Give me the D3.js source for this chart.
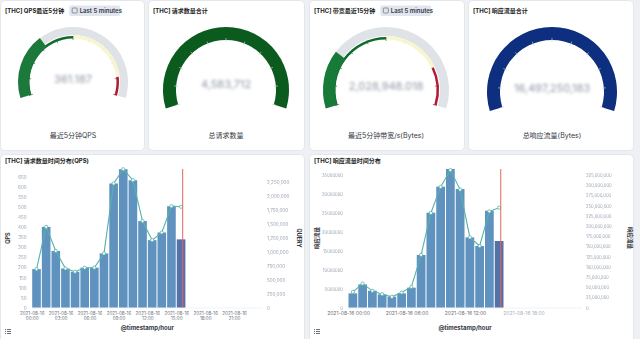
<!DOCTYPE html>
<html>
<head>
<meta charset="utf-8">
<title>THC dashboard</title>
<script src="https://cdn.jsdelivr.net/npm/d3@7"></script>
<style>
  body { margin: 0; background: #eef0f4; }
  svg { display: block; font-family: Inter, "Noto Sans CJK SC", sans-serif; }
</style>
</head>
<body>
<svg width="640" height="339" id="mainsvg"></svg>
<script>
// ---- gauge data
const gaugeTitles = ['[THC] QPS最近5分钟', '[THC] 请求数量合计', '[THC] 带宽最近15分钟', '[THC] 响应流量合计'];
const gaugeBadges = ['Last 5 minutes', '', 'Last 5 minutes', ''];
const gaugeLabels = ['最近5分钟QPS', '总请求数量', '最近5分钟带宽/s(Bytes)', '总响应流量(Bytes)'];
const gaugeValues = [326.83, 4583712, 2028948.018, 16497250183];
const gaugeText = ['361.187', '4,583,712', '2,028,948.018', '16,497,250,183'];
const gaugeMax = [1000, 4000000, 8000000, 12000000000];
const gaugeRanges = [[0, 500, 890, 1000], [0, 4000000], [0, 4000000, 6400000, 8000000], [0, 12000000000]];

// ---- bar chart data (hourly buckets)
const hours = ['2021-08-16 00:00', '2021-08-16 01:00', '2021-08-16 02:00', '2021-08-16 03:00',
  '2021-08-16 04:00', '2021-08-16 05:00', '2021-08-16 06:00', '2021-08-16 07:00',
  '2021-08-16 08:00', '2021-08-16 09:00', '2021-08-16 10:00', '2021-08-16 11:00',
  '2021-08-16 12:00', '2021-08-16 13:00', '2021-08-16 14:00', '2021-08-16 15:00'];
const dayRange = ['2021-08-16 00:00', '2021-08-17 00:00'];
const nowTime = '2021-08-16 15:40';
const qps = [192, 402, 282, 195, 179, 199, 199, 270, 618, 689, 634, 431, 336, 374, 505, 340];
const query = [691200, 1447200, 1015200, 702000, 644400, 716400, 716400, 972000,
  2224800, 2480400, 2282400, 1551600, 1209600, 1346400, 1818000, 1807200];
const respBytes = [3770000, 6140000, 4470000, 3510000, 2900000, 3770000, 5260000, 13860000,
  25000000, 31850000, 36500000, 31240000, 18510000, 16230000, 25530000, 17550000];
const respLine = [38800000, 59100000, 41300000, 33200000, 26700000, 37200000, 51000000, 129400000,
  232200000, 296100000, 337400000, 289600000, 172300000, 151300000, 236200000, 245100000];

const svg = d3.select('#mainsvg');
const defs = svg.append('defs');
defs.append('filter').attr('id', 'blurBig').attr('x', '-20%').attr('width', '140%')
  .append('feGaussianBlur').attr('stdDeviation', 1.5);
defs.append('filter').attr('id', 'blurSm')
  .append('feGaussianBlur').attr('stdDeviation', 0.45);

// panels
const panels = [
  { x: 0, y: 0, w: 145, h: 151 }, { x: 148, y: 0, w: 157, h: 151 },
  { x: 309, y: 0, w: 156, h: 151 }, { x: 468, y: 0, w: 166, h: 151 },
  { x: 0, y: 154, w: 305, h: 190 }, { x: 309, y: 154, w: 325, h: 190 }
];
svg.selectAll('rect.panel').data(panels).join('rect').attr('class', 'panel')
  .attr('x', d => d.x + 0.5).attr('y', d => d.y + 0.5)
  .attr('width', d => d.w - 1).attr('height', d => d.h - 1)
  .attr('rx', 4).attr('fill', '#fff').attr('stroke', '#e3e6eb');

// ---- gauges
const gaugeGeo = [
  { cx: 73, cy: 82, r: 55, bg: 8, th: 11, color: '#1b7a3b' },
  { cx: 226, cy: 90, r: 63, bg: 9, th: 13, color: '#0c5b1e' },
  { cx: 386, cy: 90, r: 63, bg: 9, th: 12, color: '#177a38' },
  { cx: 552, cy: 92, r: 65, bg: 9, th: 13, color: '#0e2f7f' }
];
const rangeColors = ['#0f6b2c', '#f7f6cf', '#b01c33'];
const a0 = -107 * Math.PI / 180, a1 = 107 * Math.PI / 180;

gaugeTitles.forEach((t, i) => {
  const p = panels[i], geo = gaugeGeo[i];
  const title = svg.append('text').attr('x', p.x + 5).attr('y', 13)
    .attr('font-size', 6).attr('font-weight', 700).attr('fill', '#1a1c21').text(t);
  if (gaugeBadges[i]) {
    const tw = title.node().getComputedTextLength();
    const bx = p.x + 5 + tw + 5;
    svg.append('rect').attr('x', bx).attr('y', 5.5).attr('width', 51).attr('height', 10.5)
      .attr('rx', 2).attr('fill', '#e0e5ee');
    svg.append('rect').attr('x', bx + 3).attr('y', 8).attr('width', 5).attr('height', 5)
      .attr('rx', 0.8).attr('fill', 'none').attr('stroke', '#69707d').attr('stroke-width', 0.7);
    svg.append('text').attr('x', bx + 10.5).attr('y', 13).attr('font-size', 6)
      .attr('font-weight', 600).attr('fill', '#343741').text(gaugeBadges[i]);
  }

  const g = svg.append('g').attr('transform', `translate(${geo.cx},${geo.cy})`);
  const ang = d3.scaleLinear().domain([0, gaugeMax[i]]).range([a0, a1]).clamp(true);
  // background
  g.append('path').attr('fill', '#dfe2e6')
    .attr('d', d3.arc()({ innerRadius: geo.r - geo.bg, outerRadius: geo.r, startAngle: a0, endAngle: a1 }));
  // colour ranges (scale)
  const rg = gaugeRanges[i];
  if (rg.length > 2) {
    for (let k = 0; k < rg.length - 1; k++) {
      g.append('path').attr('fill', rangeColors[k])
        .attr('d', d3.arc()({ innerRadius: geo.r - geo.th - 0.5, outerRadius: geo.r - geo.bg + (k === 1 ? 0 : -1),
          startAngle: ang(rg[k]), endAngle: ang(rg[k + 1]) }));
    }
  }
  // value arc
  g.append('path').attr('fill', geo.color)
    .attr('d', d3.arc()({ innerRadius: geo.r - geo.th, outerRadius: geo.r, startAngle: a0, endAngle: ang(gaugeValues[i]) }));
  // ticks
  const tv = d3.range(0, 11).map(k => a0 + (a1 - a0) * k / 10);
  g.selectAll('line.tk').data(tv).join('line').attr('class', 'tk')
    .attr('x1', a => Math.sin(a) * (geo.r - geo.th - 2)).attr('y1', a => -Math.cos(a) * (geo.r - geo.th - 2))
    .attr('x2', a => Math.sin(a) * (geo.r - geo.th + 2)).attr('y2', a => -Math.cos(a) * (geo.r - geo.th + 2))
    .attr('stroke', a => {
      if (rg.length <= 2) return '#c9ced6';
      const v = ang.invert(a);
      return v <= rg[1] ? '#2f6b3f' : (v < rg[2] ? '#eceacb' : '#b01c33');
    }).attr('stroke-width', 0.7);
  // value text (blurred)
  g.append('text').attr('y', [-2, -5, -3, -3][i]).attr('text-anchor', 'middle')
    .attr('dominant-baseline', 'middle').attr('font-size', 11).attr('fill', '#8e96a3')
    .attr('filter', 'url(#blurBig)').text(gaugeText[i]);
  svg.append('text').attr('x', geo.cx).attr('y', 138).attr('text-anchor', 'middle')
    .attr('font-size', 7).attr('fill', '#343741').text(gaugeLabels[i]);
});

// ---- bar charts
const parse = d3.timeParse('%Y-%m-%d %H:%M');
const times = hours.map(parse);
const fmt = d3.timeFormat('%Y-%m-%d %H:%M');

function drawChart(c) {
  const p = c.panel;
  svg.append('text').attr('x', p.x + 5).attr('y', 163).attr('font-size', 6).attr('font-weight', 700)
    .attr('fill', '#1a1c21').text(c.title);
  const x = d3.scaleTime().domain(dayRange.map(parse)).range([c.x0, c.x1]);
  const y = d3.scaleLinear().domain([0, c.yMax]).range([307.7, 169]);
  const y2 = d3.scaleLinear().domain([0, c.y2Max]).range([307.7, 169]);
  const g = svg.append('g');

  g.selectAll('rect.bar').data(c.bars).join('rect').attr('class', 'bar')
    .attr('x', (d, i) => x(times[i]) + 0.5)
    .attr('width', (d, i) => x(d3.timeHour.offset(times[i], 1)) - x(times[i]) - 1)
    .attr('y', d => y(d)).attr('height', d => y(0) - y(d))
    .attr('fill', (d, i) => i === c.bars.length - 1 ? '#5670a8' : '#6092c0');

  const mid = i => x(d3.timeMinute.offset(times[i], 30));
  g.append('path').datum(c.line)
    .attr('d', d3.line().x((d, i) => mid(i)).y(d => y2(d)))
    .attr('fill', 'none').attr('stroke', '#54b3a8').attr('stroke-width', 1.1);
  g.selectAll('circle').data(c.line).join('circle')
    .attr('cx', (d, i) => mid(i)).attr('cy', d => y2(d)).attr('r', 1.6)
    .attr('fill', '#fff').attr('stroke', '#54b3a8').attr('stroke-width', 0.8);

  g.append('line').attr('x1', x(parse(nowTime))).attr('x2', x(parse(nowTime)))
    .attr('y1', 169).attr('y2', 307.7).attr('stroke', '#e0675a').attr('stroke-width', 1);

  // axes
  const end = parse(dayRange[1]);
  const xTicks = x.ticks(d3.timeHour.every(c.every)).filter(d => d < end);
  const yAxis = g.append('g').attr('transform', `translate(${c.x0 - 5},0)`)
    .call(d3.axisLeft(y).tickValues(c.yTicks).tickSize(0).tickPadding(0).tickFormat(c.yFmt));
  const y2Axis = g.append('g').attr('transform', `translate(${c.x1 + 4},0)`)
    .call(d3.axisRight(y2).tickValues(c.y2Ticks).tickSize(0).tickPadding(0).tickFormat(d3.format(',')));
  const xAxis = g.append('g').attr('transform', 'translate(0,309.5)')
    .call(d3.axisBottom(x).tickValues(xTicks).tickSize(0).tickPadding(2).tickFormat(fmt));
  [yAxis, y2Axis, xAxis].forEach(a => a.select('.domain').remove());
  [yAxis, y2Axis].forEach(a => a.selectAll('text').attr('font-size', c.yFont).attr('fill', '#9aa3b0')
    .attr('font-family', 'Inter, sans-serif').attr('filter', 'url(#blurSm)'));
  xAxis.selectAll('text').attr('font-size', c.xFont).attr('fill', '#69707d').attr('font-family', 'Inter, sans-serif');
  if (c.wrap) {
    // dense ticks: date on one line, time below
    xAxis.selectAll('.tick text').each(function (d) {
      const t = d3.select(this).text('').attr('y', 0).attr('dy', null);
      t.append('tspan').attr('x', 0).attr('y', 5).text(d3.timeFormat('%Y-%m-%d')(d));
      t.append('tspan').attr('x', 0).attr('y', 10).text(d3.timeFormat('%H:%M')(d));
    });
  }
  if (c.last) xAxis.selectAll('.tick').filter((d, i, n) => i === n.length - 1).select('text').attr('fill', '#aab1bc');

  g.append('line').attr('x1', c.x0).attr('x2', c.x1).attr('y1', 308).attr('y2', 308)
    .attr('stroke', '#e6e9ee').attr('stroke-width', 0.6);

  // titles
  g.append('text').attr('transform', `translate(${p.x + 10},238) rotate(-90)`).attr('text-anchor', 'middle')
    .attr('font-size', 5.5).attr('font-weight', 700).attr('fill', '#343741').text(c.yTitle);
  g.append('text').attr('transform', `translate(${c.y2TitleX},238) rotate(90)`).attr('text-anchor', 'middle')
    .attr('font-size', 5.5).attr('font-weight', 700).attr('fill', '#343741').text(c.y2Title);
  g.append('text').attr('x', (c.x0 + c.x1) / 2).attr('y', 330).attr('text-anchor', 'middle')
    .attr('font-size', 6).attr('font-weight', 700).attr('fill', '#343741').text('@timestamp/hour');

  // legend toggle icon
  const ix = p.x + 5, iy = 329;
  [0, 2, 4].forEach(o => {
    g.append('rect').attr('x', ix).attr('y', iy + o).attr('width', 1).attr('height', 1).attr('fill', '#69707d');
    g.append('rect').attr('x', ix + 2).attr('y', iy + o).attr('width', 4).attr('height', 1).attr('fill', '#69707d');
  });
}

drawChart({
  panel: panels[4], title: '[THC] 请求数量时间分布(QPS)', x0: 31.7, x1: 263,
  bars: qps, line: query, yMax: 690, y2Max: 2484000,
  yTicks: d3.range(0, 700, 50), y2Ticks: d3.range(0, 2500000, 250000), yFmt: d3.format('d'),
  yFont: 4.6, xFont: 4.5, every: 3, wrap: true, yTitle: 'QPS', y2Title: 'QUERY', y2TitleX: 297
});
drawChart({
  panel: panels[5], title: '[THC] 响应流量时间分布', x0: 348, x1: 582,
  bars: respBytes, line: respLine, yMax: 36500000, y2Max: 340000000,
  yTicks: d3.range(0, 36000000, 5000000), y2Ticks: d3.range(0, 340000000, 25000000), yFmt: d3.format('d'),
  yFont: 4.2, xFont: 5, every: 6, yTitle: '响应流量', y2Title: '响应流量', y2TitleX: 628, last: true
});
</script>
</body>
</html>
